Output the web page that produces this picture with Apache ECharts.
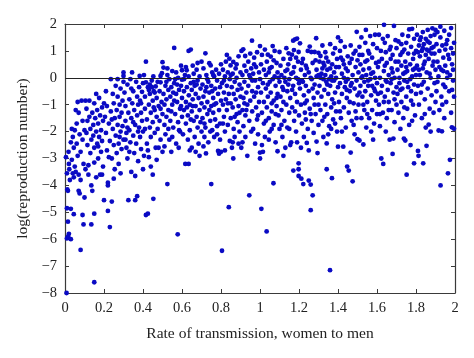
<!DOCTYPE html>
<html>
<head>
<meta charset="utf-8">
<script src="https://cdn.jsdelivr.net/npm/echarts@6/dist/echarts.min.js"></script>
<style>
html,body{margin:0;padding:0;background:#fff;}
#chart{width:474px;height:358px;}
</style>
</head>
<body>
<div id="chart"></div>
<script>
// x: rate of transmission (women to men), y: log(reproduction number)
const xTicks = [0, 0.2, 0.4, 0.6, 0.8, 1, 1.2, 1.4, 1.6, 1.8, 2];
const yTicks = [-8, -7, -6, -5, -4, -3, -2, -1, 0, 1, 2];
const referenceLevel = 0;
const xTitle = 'Rate of transmission, women to men';
const yTitle = 'log(reproduction number)';

const points = [
[0.005,-2.95],[0.01,-3.55],[0.012,-4.15],[0.015,-4.2],[0.01,-4.85],[0.02,-3.2],[0.018,-2.75],[0.022,-3.4],[0.025,-3.8],[0.015,-5.35],[0.01,-5.97],[0.02,-5.8],[0.016,-5.9],[0.03,-6.0],[0.008,-8.0],[0.03,-2.4],[0.035,-3.05],[0.03,-4.87],[0.04,-3.55],[0.045,-3.7],[0.04,-2.2],[0.05,-1.95],[0.045,-2.6],[0.05,-3.3],[0.055,-3.5],[0.045,-5.07],[0.06,-1.7],[0.06,-2.45],[0.065,-2.9],[0.07,-3.6],[0.07,-4.2],[0.075,-4.3],[0.07,-1.3],[0.075,-2.1],[0.08,-2.75],[0.08,-3.8],[0.08,-6.4],[0.085,-0.85],[0.09,-1.6],[0.09,-2.3],[0.09,-5.1],[0.095,-5.45],[0.095,-3.2],[0.1,-4.45],[0.1,-1.95],[0.065,-0.9],[0.055,-1.2],[0.035,-1.9],
[0.105,-0.85],[0.11,-1.15],[0.115,-1.6],[0.11,-2.05],[0.115,-2.5],[0.12,-3.25],[0.105,-3.4],[0.12,-3.6],[0.125,-0.85],[0.13,-1.9],[0.13,-2.8],[0.135,-2.3],[0.135,-5.45],[0.14,-1.3],[0.14,-4.2],[0.145,-1.75],[0.145,-2.15],[0.15,-0.95],[0.15,-2.6],[0.15,-3.15],[0.15,-5.05],[0.15,-7.6],[0.155,-1.5],[0.16,-2.0],[0.16,-3.7],[0.165,-1.2],[0.165,-2.45],[0.17,-1.7],[0.17,-3.0],[0.175,-0.75],[0.175,-2.2],[0.18,-1.4],[0.18,-3.6],[0.185,-1.95],[0.185,-2.75],[0.19,-1.1],[0.19,-2.35],[0.195,-1.6],[0.195,-3.3],[0.2,-4.55],[0.2,-0.95],[0.125,-1.45],[0.135,-4.0],[0.16,-0.6],[0.17,-2.55],[0.19,-3.6],
[0.205,-1.45],[0.21,-0.5],[0.21,-2.05],[0.215,-2.7],[0.215,-1.05],[0.22,-3.9],[0.22,-4.0],[0.22,-4.95],[0.225,-1.7],[0.23,-2.35],[0.23,-5.55],[0.235,-0.05],[0.235,-1.25],[0.24,-3.0],[0.24,-4.6],[0.245,-0.6],[0.245,-1.9],[0.25,-2.5],[0.25,-0.95],[0.255,-1.5],[0.255,-3.4],[0.26,-0.3],[0.26,-2.15],[0.265,-1.2],[0.265,-2.8],[0.27,-0.7],[0.27,-1.75],[0.275,-2.45],[0.275,-3.2],[0.28,-1.0],[0.28,-1.45],[0.285,-0.4],[0.285,-2.0],[0.29,-2.65],[0.29,-1.3],[0.295,-0.85],[0.295,-1.8],[0.3,-0.15],[0.3,0.2],[0.3,0.07],[0.3,-2.3],[0.225,-2.95],[0.25,-3.75],[0.285,-3.55],[0.27,-0.05],[0.24,-1.55],[0.28,-2.2],
[0.305,-0.55],[0.31,-1.05],[0.31,-1.6],[0.315,-2.05],[0.315,-2.6],[0.32,-0.25],[0.32,-3.0],[0.325,-1.3],[0.325,-4.55],[0.33,-0.8],[0.33,-1.95],[0.335,-2.4],[0.34,-0.4],[0.34,-1.5],[0.34,-3.5],[0.344,0.2],[0.345,-0.95],[0.35,-0.5],[0.35,-2.15],[0.355,-1.2],[0.355,-2.8],[0.36,-1.75],[0.36,-3.65],[0.36,-4.55],[0.365,-0.15],[0.365,-2.45],[0.37,-0.7],[0.37,-1.4],[0.37,-4.4],[0.375,-1.0],[0.375,-3.1],[0.38,-0.35],[0.38,-1.85],[0.383,0.07],[0.385,-2.2],[0.385,-0.85],[0.39,-1.3],[0.39,-2.65],[0.395,-0.52],[0.395,-1.6],[0.4,-0.2],[0.4,-2.0],[0.4,-3.4],[0.31,-2.3],[0.335,-0.05],[0.35,-1.65],[0.375,-2.0],[0.39,-0.95],[0.32,-1.85],[0.33,-2.75],
[0.405,-2.9],[0.405,0.1],[0.41,-0.7],[0.41,-1.15],[0.415,0.6],[0.415,-0.17],[0.415,-5.1],[0.42,-1.55],[0.42,-2.45],[0.425,-0.35],[0.425,-5.05],[0.43,-0.45],[0.43,-1.0],[0.43,-2.95],[0.435,-1.85],[0.435,-0.6],[0.44,-1.3],[0.44,-2.2],[0.445,-0.1],[0.446,-0.35],[0.45,-0.85],[0.45,-1.65],[0.45,-3.6],[0.453,0.05],[0.453,-4.5],[0.455,-0.5],[0.46,-1.2],[0.46,-2.05],[0.465,-0.32],[0.465,-2.6],[0.47,-0.75],[0.47,-1.45],[0.475,-1.9],[0.475,-0.15],[0.48,-1.05],[0.48,-2.6],[0.485,-0.5],[0.485,-1.6],[0.49,0.07],[0.49,-0.17],[0.49,-2.3],[0.495,-0.9],[0.497,0.17],[0.5,-1.35],[0.5,-2.75],[0.5,0.58],[0.41,-1.9],[0.425,-2.7],[0.44,-3.3],[0.455,-1.1],[0.47,-3.05],[0.49,-1.15],[0.435,-0.25],[0.46,-0.55],
[0.505,0.38],[0.505,-0.6],[0.51,-1.0],[0.51,-1.75],[0.515,-0.3],[0.515,-2.1],[0.52,-0.8],[0.52,-1.45],[0.525,0.1],[0.525,-3.95],[0.53,-0.45],[0.53,-1.2],[0.535,-2.3],[0.535,-0.05],[0.54,-0.7],[0.54,-1.6],[0.545,-0.35],[0.545,-2.75],[0.55,0.25],[0.55,-1.0],[0.555,-1.85],[0.555,-0.55],[0.56,1.11],[0.56,-0.2],[0.565,-0.05],[0.565,-1.35],[0.57,-0.6],[0.57,-2.45],[0.575,-0.9],[0.578,-5.82],[0.58,0.0],[0.58,-1.65],[0.583,-2.6],[0.585,-0.45],[0.59,-1.15],[0.59,-2.0],[0.595,0.45],[0.595,-0.3],[0.6,0.28],[0.6,-0.07],[0.6,-0.75],[0.6,-1.45],[0.51,-2.55],[0.52,-0.15],[0.53,-1.9],[0.545,-1.25],[0.55,-2.2],[0.56,-0.85],[0.575,-0.25],[0.585,-1.95],[0.595,-1.05],[0.525,0.35],[0.57,0.2],
[0.605,-2.1],[0.61,-0.5],[0.61,-1.2],[0.615,0.1],[0.617,-3.2],[0.62,-0.9],[0.62,-1.7],[0.624,0.28],[0.625,-0.35],[0.63,-1.4],[0.63,-2.3],[0.634,1.0],[0.634,0.05],[0.634,-3.2],[0.635,-0.65],[0.64,-1.0],[0.64,-1.95],[0.645,1.05],[0.645,-0.2],[0.65,-0.45],[0.65,-1.25],[0.65,-2.6],[0.655,0.45],[0.655,-0.8],[0.66,-1.6],[0.66,0.15],[0.665,-0.3],[0.665,-2.2],[0.67,-1.05],[0.67,-0.6],[0.675,0.3],[0.675,-1.45],[0.68,-0.1],[0.68,-1.85],[0.685,-0.75],[0.685,-2.45],[0.69,0.05],[0.69,-1.2],[0.695,-0.4],[0.695,-1.65],[0.7,0.6],[0.7,-0.95],[0.7,-2.0],[0.61,-0.05],[0.62,0.4],[0.64,-2.7],[0.655,-1.05],[0.67,-2.75],[0.68,0.55],[0.69,-2.9],[0.625,-1.1],[0.66,-0.15],[0.645,-1.55],[0.675,-0.25],
[0.705,-0.25],[0.705,-1.5],[0.71,0.35],[0.71,-0.7],[0.715,-1.1],[0.715,-2.2],[0.72,0.91],[0.72,-0.5],[0.72,-1.85],[0.723,-2.81],[0.725,0.1],[0.73,-1.35],[0.73,-0.9],[0.735,-0.15],[0.735,-2.4],[0.74,0.54],[0.74,-0.55],[0.745,-1.6],[0.747,0.46],[0.75,-0.3],[0.75,-1.05],[0.75,-3.95],[0.755,0.2],[0.755,-1.95],[0.76,-0.75],[0.76,-1.3],[0.765,0.05],[0.765,-2.2],[0.77,-0.4],[0.77,-1.55],[0.775,0.3],[0.775,-0.95],[0.78,-0.1],[0.78,-1.8],[0.785,-0.6],[0.785,-2.72],[0.79,-1.2],[0.79,-2.82],[0.79,0.15],[0.795,-0.35],[0.795,-1.7],[0.8,-2.75],[0.8,-0.85],[0.8,0.5],[0.71,-2.55],[0.725,-0.35],[0.74,-1.2],[0.755,-0.5],[0.765,-1.0],[0.78,-2.1],[0.73,-0.05],[0.76,0.1],[0.795,-2.3],[0.715,-1.7],[0.745,-2.0],
[0.805,-6.43],[0.805,-0.2],[0.81,0.3],[0.81,-1.0],[0.815,-0.55],[0.815,-1.45],[0.82,0.05],[0.82,-2.0],[0.825,-0.8],[0.825,0.6],[0.83,-0.3],[0.83,-1.2],[0.835,0.2],[0.835,-1.75],[0.84,-4.81],[0.84,-0.6],[0.843,0.71],[0.845,-2.35],[0.845,-0.05],[0.849,0.46],[0.85,-0.95],[0.85,-1.5],[0.855,-0.35],[0.856,-2.6],[0.86,0.15],[0.86,-1.1],[0.863,0.59],[0.863,-3.0],[0.865,-0.6],[0.865,-1.9],[0.87,-0.15],[0.87,-2.2],[0.875,0.35],[0.875,-0.8],[0.88,-1.35],[0.88,0.0],[0.885,-0.45],[0.885,-1.65],[0.89,0.8],[0.89,-1.05],[0.895,-0.25],[0.895,-2.0],[0.9,0.2],[0.9,-0.7],[0.81,-1.7],[0.82,-2.7],[0.835,-0.95],[0.85,0.1],[0.87,-1.45],[0.89,-2.45],[0.88,0.5],[0.83,0.85],[0.86,-2.4],[0.815,-0.1],[0.895,-1.3],
[0.904,-2.6],[0.905,-0.4],[0.905,1.0],[0.91,-1.2],[0.91,0.1],[0.914,1.06],[0.915,-0.75],[0.915,-1.8],[0.92,0.45],[0.92,-0.15],[0.924,0.81],[0.925,-1.4],[0.925,-2.2],[0.93,-0.55],[0.93,0.25],[0.935,-1.0],[0.935,-2.9],[0.94,0.6],[0.94,-0.3],[0.945,-4.37],[0.945,-1.6],[0.95,0.0],[0.95,-0.85],[0.955,0.35],[0.955,-2.0],[0.959,1.38],[0.96,-0.5],[0.96,-1.25],[0.965,0.15],[0.965,-1.9],[0.97,0.75],[0.97,-0.7],[0.975,-0.1],[0.975,-2.45],[0.98,0.4],[0.98,-1.1],[0.985,-1.55],[0.985,0.95],[0.99,-0.35],[0.99,-2.1],[0.995,0.2],[0.995,-0.9],[1.0,1.18],[1.0,-2.78],[1.0,-3.0],[1.0,-0.05],[0.91,-2.4],[0.93,-1.2],[0.945,0.1],[0.96,-0.1],[0.97,0.5],[0.98,-0.55],[0.99,-1.4],[0.92,-0.95],[0.95,0.9],
[1.005,-0.55],[1.005,0.5],[1.007,-4.87],[1.01,-1.3],[1.01,0.85],[1.015,-0.2],[1.015,-2.75],[1.02,0.3],[1.02,-0.9],[1.02,-1.7],[1.025,-2.2],[1.03,0.1],[1.03,-0.4],[1.034,-5.71],[1.035,-1.1],[1.035,0.6],[1.04,0.86],[1.04,-0.7],[1.045,-1.5],[1.045,0.2],[1.05,-0.15],[1.05,-2.0],[1.055,0.79],[1.055,-0.55],[1.06,-1.25],[1.06,0.4],[1.065,1.18],[1.065,-0.05],[1.069,-3.92],[1.07,-0.85],[1.07,-1.75],[1.075,1.0],[1.075,0.05],[1.08,-0.3],[1.08,-2.4],[1.085,0.55],[1.085,-1.05],[1.09,-2.73],[1.09,0.2],[1.09,-0.6],[1.095,-1.4],[1.1,0.96],[1.1,-0.15],[1.1,-1.9],[1.01,-2.5],[1.025,1.05],[1.04,-0.25],[1.05,0.35],[1.06,-1.9],[1.07,0.65],[1.08,-1.35],[1.095,0.0],[1.03,-1.6],[1.06,-0.95],[1.085,-0.75],[1.045,-2.3],
[1.105,0.45],[1.105,-0.7],[1.11,-1.2],[1.11,0.1],[1.115,-0.35],[1.115,-2.2],[1.12,-2.9],[1.12,0.7],[1.12,-0.9],[1.125,-1.6],[1.13,0.25],[1.13,-0.15],[1.135,-1.0],[1.135,1.1],[1.14,-0.5],[1.14,-1.85],[1.145,0.5],[1.147,0.91],[1.15,-0.05],[1.15,-1.3],[1.155,-0.75],[1.155,-2.5],[1.16,0.15],[1.16,-2.4],[1.164,0.86],[1.165,-1.1],[1.17,1.38],[1.17,-0.3],[1.171,-3.45],[1.174,1.03],[1.175,-1.6],[1.175,0.4],[1.18,1.43],[1.18,-0.6],[1.185,0.0],[1.185,-2.0],[1.19,1.46],[1.19,-2.4],[1.19,-0.9],[1.195,0.6],[1.198,0.96],[1.198,-3.18],[1.198,-3.65],[1.198,-3.4],[1.2,-0.2],[1.2,-1.4],[1.11,-1.75],[1.125,0.0],[1.14,0.3],[1.155,0.7],[1.165,-0.45],[1.18,-1.25],[1.195,-0.05],[1.13,-2.6],[1.15,-1.9],[1.17,0.2],[1.12,-0.45],[1.145,-0.25],[1.185,0.75],
[1.205,1.28],[1.205,-0.4],[1.21,0.3],[1.21,-1.0],[1.212,-3.75],[1.215,-0.1],[1.215,-1.7],[1.22,0.7],[1.222,-3.95],[1.225,-0.65],[1.225,-2.2],[1.23,0.1],[1.23,-1.3],[1.235,0.45],[1.235,-0.3],[1.24,-2.42],[1.24,-0.85],[1.245,1.0],[1.245,-1.9],[1.25,-3.82],[1.25,0.2],[1.25,-0.5],[1.255,1.16],[1.255,-1.15],[1.26,-3.97],[1.26,-4.92],[1.263,0.96],[1.265,-0.05],[1.265,-1.6],[1.27,-4.37],[1.27,0.55],[1.275,-0.75],[1.275,-2.05],[1.28,0.96],[1.28,-0.25],[1.285,-1.35],[1.288,1.47],[1.29,-2.37],[1.29,0.3],[1.295,-0.55],[1.3,0.93],[1.3,-1.0],[1.3,-1.75],[1.21,-2.6],[1.22,-0.15],[1.23,-0.95],[1.24,0.35],[1.25,-2.7],[1.26,0.0],[1.27,-0.4],[1.28,-1.0],[1.29,0.05],[1.295,-2.8],[1.215,0.55],[1.26,-1.35],[1.285,0.65],[1.235,-1.55],[1.3,0.1],
[1.305,0.6],[1.305,-0.3],[1.31,0.81],[1.31,-1.2],[1.315,0.15],[1.315,-0.7],[1.32,1.2],[1.32,-1.6],[1.325,-0.05],[1.325,-2.2],[1.33,0.45],[1.33,-0.45],[1.335,0.95],[1.335,-1.0],[1.34,-0.15],[1.342,-2.44],[1.342,-3.4],[1.345,0.3],[1.345,-1.35],[1.35,0.6],[1.35,-0.6],[1.355,-0.05],[1.355,-1.8],[1.359,-7.15],[1.36,1.25],[1.36,-0.3],[1.365,0.05],[1.365,-1.1],[1.369,-3.73],[1.37,0.5],[1.37,-0.8],[1.375,-1.55],[1.38,0.2],[1.38,-0.1],[1.385,1.1],[1.385,-0.55],[1.39,0.0],[1.39,-1.25],[1.395,0.7],[1.395,-2.0],[1.4,-2.56],[1.4,-0.35],[1.4,1.5],[1.31,0.0],[1.32,0.35],[1.33,-1.45],[1.34,0.75],[1.35,-2.1],[1.36,0.35],[1.37,-0.1],[1.38,-0.95],[1.39,0.4],[1.335,0.1],[1.375,0.9],[1.345,-0.25],[1.365,-1.9],[1.385,-1.7],[1.325,0.55],
[1.405,0.4],[1.405,-0.9],[1.41,1.0],[1.41,-0.2],[1.414,1.36],[1.415,-1.5],[1.42,0.15],[1.42,-0.6],[1.425,0.65],[1.427,-2.56],[1.43,-1.1],[1.43,0.0],[1.435,1.15],[1.435,-0.35],[1.44,-1.85],[1.44,0.35],[1.445,-0.75],[1.447,-3.3],[1.45,0.8],[1.45,-0.05],[1.455,-3.45],[1.455,-1.3],[1.46,0.55],[1.46,-0.5],[1.465,-2.78],[1.465,1.2],[1.47,-0.2],[1.47,-1.6],[1.475,-3.85],[1.475,0.1],[1.48,0.9],[1.48,-0.95],[1.485,-0.4],[1.485,-2.1],[1.49,0.4],[1.49,-1.25],[1.495,-0.1],[1.496,1.71],[1.5,-2.28],[1.5,0.65],[1.5,-0.65],[1.41,-1.25],[1.42,-2.0],[1.43,0.5],[1.44,-0.15],[1.45,0.25],[1.46,-0.9],[1.47,0.7],[1.48,-1.75],[1.49,1.0],[1.445,-0.45],[1.465,-0.3],[1.415,0.75],[1.495,-1.5],
[1.505,0.2],[1.505,-1.0],[1.51,-2.33],[1.51,1.15],[1.515,-0.3],[1.515,0.5],[1.52,-1.5],[1.52,0.0],[1.525,0.85],[1.525,-0.7],[1.53,-2.48],[1.53,0.3],[1.535,-0.15],[1.535,-1.2],[1.54,1.3],[1.54,-0.5],[1.543,1.78],[1.545,0.1],[1.545,-1.85],[1.55,0.65],[1.55,-0.9],[1.555,-0.3],[1.555,1.0],[1.56,-1.5],[1.56,0.35],[1.565,1.55],[1.565,-0.05],[1.57,-0.65],[1.57,-2.0],[1.575,0.75],[1.575,-1.2],[1.58,0.2],[1.58,1.25],[1.585,-0.4],[1.585,-1.7],[1.59,1.6],[1.59,0.0],[1.595,-0.85],[1.595,0.55],[1.6,1.1],[1.6,-1.35],[1.6,-0.2],[1.51,-0.55],[1.52,1.5],[1.53,-1.0],[1.54,0.6],[1.55,-1.35],[1.56,0.9],[1.57,0.15],[1.58,-2.3],[1.59,-0.5],[1.525,0.05],[1.555,-0.1],[1.575,-0.3],[1.51,0.85],
[1.605,0.4],[1.605,-0.6],[1.61,1.6],[1.61,-1.0],[1.615,0.0],[1.615,-1.8],[1.62,1.0],[1.622,-3.0],[1.625,-0.3],[1.625,0.7],[1.63,-1.3],[1.632,-3.2],[1.635,0.25],[1.636,1.97],[1.64,-0.7],[1.64,1.3],[1.645,-0.1],[1.645,-2.0],[1.65,0.55],[1.65,-1.5],[1.655,1.55],[1.655,-0.45],[1.66,0.1],[1.66,-0.9],[1.665,1.05],[1.665,-2.3],[1.67,1.15],[1.67,-0.2],[1.675,0.35],[1.675,-1.2],[1.68,-2.83],[1.68,0.85],[1.684,-2.26],[1.685,-0.55],[1.687,1.93],[1.69,0.0],[1.69,-1.65],[1.695,1.4],[1.695,0.6],[1.7,-0.35],[1.7,-1.0],[1.61,0.6],[1.62,-0.55],[1.63,1.45],[1.64,0.45],[1.65,-0.15],[1.66,-1.2],[1.67,0.7],[1.68,0.2],[1.69,-0.8],[1.7,1.1],[1.615,-1.35],[1.645,0.95],[1.675,-0.05],[1.635,-0.9],
[1.705,0.3],[1.705,-0.6],[1.71,1.35],[1.71,-1.3],[1.715,0.0],[1.715,-0.2],[1.72,0.85],[1.72,-1.9],[1.725,0.45],[1.725,-0.9],[1.73,1.6],[1.73,-0.4],[1.735,0.15],[1.735,-1.5],[1.738,-2.26],[1.74,1.05],[1.74,-0.1],[1.745,-2.33],[1.745,0.6],[1.75,-0.7],[1.75,1.3],[1.752,-3.6],[1.755,0.25],[1.755,-1.15],[1.76,-0.35],[1.76,0.9],[1.765,1.8],[1.765,-1.75],[1.77,0.5],[1.772,-2.5],[1.775,-0.5],[1.775,1.15],[1.78,1.82],[1.78,0.05],[1.785,-1.0],[1.785,0.7],[1.79,-3.18],[1.79,1.45],[1.79,-0.25],[1.795,0.35],[1.795,-1.4],[1.8,1.0],[1.8,-0.6],[1.8,0.1],[1.71,0.6],[1.72,-0.45],[1.73,0.95],[1.74,-1.1],[1.75,0.4],[1.76,1.55],[1.77,-0.05],[1.78,-1.6],[1.79,0.9],[1.725,1.25],[1.755,-0.15],[1.785,0.3],[1.745,0.2],[1.775,-0.85],
[1.805,1.6],[1.805,0.45],[1.81,-2.72],[1.81,-0.3],[1.813,-2.9],[1.815,1.2],[1.815,-1.0],[1.82,0.8],[1.82,0.1],[1.825,1.5],[1.825,-0.55],[1.83,1.0],[1.83,-1.5],[1.835,0.35],[1.835,1.7],[1.837,-3.18],[1.84,-0.15],[1.84,1.25],[1.845,0.6],[1.845,-0.8],[1.85,1.45],[1.85,-1.85],[1.854,-2.53],[1.855,0.2],[1.855,1.05],[1.86,1.78],[1.86,-0.4],[1.865,-1.74],[1.865,0.7],[1.87,1.3],[1.87,-1.15],[1.875,0.0],[1.875,1.55],[1.88,0.9],[1.88,-0.65],[1.884,1.84],[1.885,0.45],[1.89,1.15],[1.89,-1.3],[1.895,-0.2],[1.895,1.6],[1.9,1.78],[1.9,0.3],[1.9,-0.9],[1.81,0.95],[1.82,1.4],[1.83,-0.25],[1.84,0.5],[1.85,0.85],[1.86,1.35],[1.87,0.15],[1.88,1.1],[1.89,0.6],[1.815,0.3],[1.845,-1.35],[1.875,-2.0],[1.835,1.1],[1.865,1.0],[1.895,0.9],
[1.905,1.25],[1.905,-0.5],[1.91,0.6],[1.91,1.7],[1.916,-1.96],[1.915,0.05],[1.92,1.0],[1.92,-1.2],[1.925,1.5],[1.926,-4.0],[1.93,0.3],[1.93,-0.7],[1.933,-1.99],[1.935,1.2],[1.94,0.75],[1.94,-0.25],[1.945,1.75],[1.945,-1.5],[1.95,0.45],[1.95,1.05],[1.955,-0.9],[1.96,0.2],[1.96,1.4],[1.964,-3.55],[1.965,0.85],[1.97,-0.5],[1.97,1.6],[1.974,-3.05],[1.975,0.1],[1.98,1.1],[1.98,-1.3],[1.984,-1.84],[1.985,0.5],[1.99,0.9],[1.99,-0.1],[1.995,-1.89],[1.995,1.3],[1.995,-0.7],[1.91,-0.15],[1.92,0.4],[1.935,-1.0],[1.95,-0.35],[1.96,0.0],[1.97,0.7],[1.98,1.85],[1.99,0.3],[1.925,1.9],[1.955,1.25],[1.94,0.25],[1.985,-0.45]
];

const FONT = '"Liberation Serif", "DejaVu Serif", serif';
const AXIS_COLOR = '#3a3a3a';
const xMin = xTicks[0], xMax = xTicks[xTicks.length - 1];
const yMin = yTicks[0], yMax = yTicks[yTicks.length - 1];
const xStep = xTicks[1] - xTicks[0];
const yStep = yTicks[1] - yTicks[0];

function fmtX(v) { return String(+v.toFixed(1)); }
function fmtY(v) { return String(Math.round(v)).replace('-', '\u2212'); }

const chart = echarts.init(document.getElementById('chart'), null, { renderer: 'canvas' });

const axisLineStyle = { show: true, onZero: false, lineStyle: { color: AXIS_COLOR, width: 1.2 } };
const tickStyle = { show: true, inside: true, length: 4, lineStyle: { color: AXIS_COLOR, width: 1 } };

chart.setOption({
  animation: false,
  backgroundColor: '#ffffff',
  grid: { left: 65, right: 19, top: 24, bottom: 65, containLabel: false },
  xAxis: [
    {
      type: 'value', position: 'bottom', min: xMin, max: xMax, interval: xStep,
      axisLine: axisLineStyle, axisTick: tickStyle, splitLine: { show: false },
      axisLabel: { show: true, margin: 8, color: '#222', fontFamily: FONT, fontSize: 14.5, formatter: fmtX },
      name: xTitle, nameLocation: 'middle', nameGap: 33,
      nameTextStyle: { color: '#222', fontFamily: FONT, fontSize: 15.5 }
    },
    {
      type: 'value', position: 'top', min: xMin, max: xMax, interval: xStep,
      axisLine: axisLineStyle, axisTick: tickStyle, splitLine: { show: false },
      axisLabel: { show: false }
    }
  ],
  yAxis: [
    {
      type: 'value', position: 'left', min: yMin, max: yMax, interval: yStep,
      axisLine: axisLineStyle, axisTick: tickStyle, splitLine: { show: false },
      axisLabel: { show: true, margin: 8, color: '#222', fontFamily: FONT, fontSize: 14.5, formatter: fmtY },
      name: yTitle, nameLocation: 'middle', nameGap: 31, nameRotate: 90,
      nameTextStyle: { color: '#222', fontFamily: FONT, fontSize: 15.5 }
    },
    {
      type: 'value', position: 'right', min: yMin, max: yMax, interval: yStep,
      axisLine: axisLineStyle, axisTick: tickStyle, splitLine: { show: false },
      axisLabel: { show: false }
    }
  ],
  series: [
    {
      type: 'scatter',
      xAxisIndex: 0, yAxisIndex: 0,
      data: points,
      symbol: 'circle',
      symbolSize: 4.8,
      itemStyle: { color: '#0a0ac4', opacity: 1 },
      silent: true,
      markLine: {
        silent: true,
        symbol: ['none', 'none'],
        label: { show: false },
        lineStyle: { color: '#222', width: 1.2, type: 'solid' },
        data: [{ yAxis: referenceLevel }]
      }
    }
  ]
});
</script>
</body>
</html>
